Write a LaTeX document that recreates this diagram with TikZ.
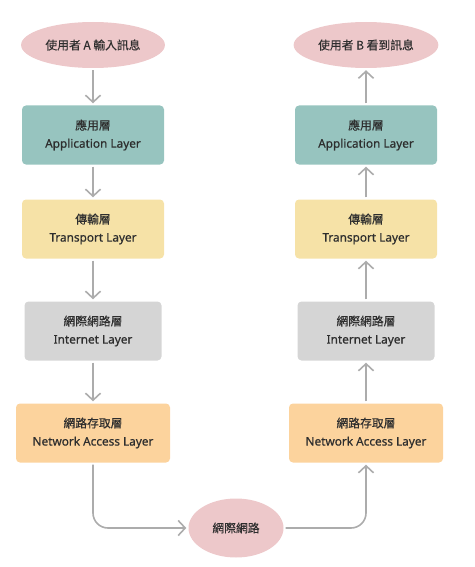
\documentclass[tikz,border=0pt]{standalone}
\usepackage{fontspec}
\setmainfont{Noto Sans}[FakeBold=0.6]
\newfontfamily\cjk{Noto Sans CJK TC}[FakeBold=0.4]
\usetikzlibrary{shapes,arrows.meta,positioning}

\definecolor{userpink}{HTML}{EDC8CA}
\definecolor{appteal}{HTML}{97C4BF}
\definecolor{transyellow}{HTML}{F6E2A7}
\definecolor{netgray}{HTML}{D5D5D5}
\definecolor{accorange}{HTML}{FCD39D}
\definecolor{flowgray}{HTML}{ACACAC}
\definecolor{labeltext}{HTML}{2E2E2E}

\begin{document}
\begin{tikzpicture}[x=1pt, y=-1pt,
    layer/.style={rectangle, rounded corners=4pt, minimum height=59pt, text=labeltext, align=center, font=\fontsize{11.8}{18}\selectfont},
    user/.style={ellipse, fill=userpink, minimum height=46pt, minimum width=142pt, text=labeltext, font=\fontsize{11.8}{18}\selectfont\cjk},
    flow/.style={-{Straight Barb[length=7pt, width=15pt]}, draw=flowgray, line width=1.6pt, shorten >=2pt, shorten <=2pt}
]
\useasboundingbox (0,0) rectangle (474,567);

% Sender side
\node[user] (userA) at (93,45) {使用者 A 輸入訊息};
\node[layer, fill=appteal, minimum width=142pt] (appA) at (93,135) {{\cjk 應用層}\\Application Layer};
\node[layer, fill=transyellow, minimum width=142pt] (transA) at (93,229) {{\cjk 傳輸層}\\Transport Layer};
\node[layer, fill=netgray, minimum width=137pt] (netA) at (93,331) {{\cjk 網際網路層}\\Internet Layer};
\node[layer, fill=accorange, minimum width=154pt] (accA) at (93,433) {{\cjk 網路存取層}\\Network Access Layer};

% Internet
\node[user, minimum width=95pt, minimum height=59pt] (inet) at (236,528) {網際網路};

% Receiver side
\node[layer, fill=accorange, minimum width=154pt] (accB) at (366,433) {{\cjk 網路存取層}\\Network Access Layer};
\node[layer, fill=netgray, minimum width=137pt] (netB) at (366,331) {{\cjk 網際網路層}\\Internet Layer};
\node[layer, fill=transyellow, minimum width=142pt] (transB) at (366,229) {{\cjk 傳輸層}\\Transport Layer};
\node[layer, fill=appteal, minimum width=142pt] (appB) at (366,135) {{\cjk 應用層}\\Application Layer};
\node[user] (userB) at (366,45) {使用者 B 看到訊息};

% Flow down, across and up
\draw[flow] (userA) -- (appA);
\draw[flow] (appA) -- (transA);
\draw[flow] (transA) -- (netA);
\draw[flow] (netA) -- (accA);
\draw[flow, rounded corners=15pt] (accA.south) |- (inet.west);
\draw[flow, rounded corners=15pt] (inet.east) -| (accB.south);
\draw[flow] (accB) -- (netB);
\draw[flow] (netB) -- (transB);
\draw[flow] (transB) -- (appB);
\draw[flow] (appB) -- (userB);

\end{tikzpicture}
\end{document}
